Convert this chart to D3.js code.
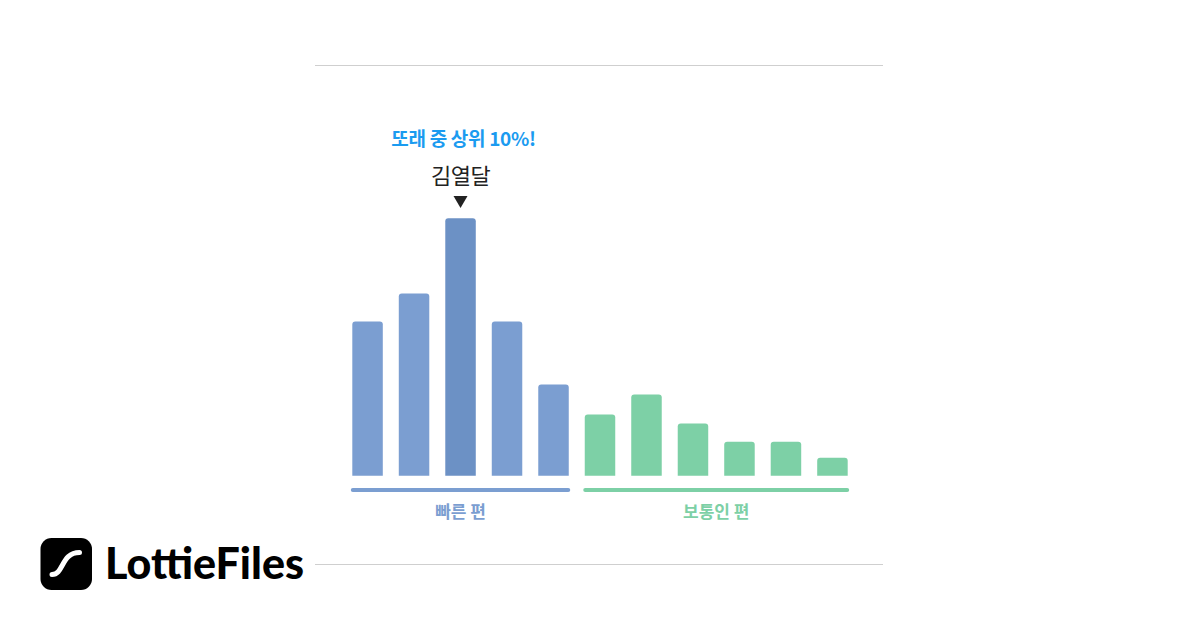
<!DOCTYPE html>
<html><head><meta charset="utf-8">
<script src="https://cdn.jsdelivr.net/npm/d3@7"></script>
<style>
html,body{margin:0;padding:0;background:#fff;}
svg{display:block;}
</style></head>
<body>
<svg id="c" width="1200" height="630"></svg>
<script>
// ---- data ----
const groupNames = ["빠른 편", "보통인 편"];
const fastValues = [15.4, 18.2, 25.7, 15.4, 9.1];
const normalValues = [6.1, 8.1, 5.2, 3.4, 3.4, 1.8];
const highlightIndex = 2;
const highlightTitle = "또래 중 상위 10%!";
const highlightName = "김열달";
const brandName = "LottieFiles";

// ---- build ----
const bars = [];
fastValues.forEach((v,i)=>bars.push({i:bars.length, v, g:0}));
normalValues.forEach((v,i)=>bars.push({i:bars.length, v, g:1}));

const colors = {0:"#7b9ed1", 1:"#7dd0a6"};
const hiColor = "#6c91c5";
const labelColors = {0:"#7b9ed1", 1:"#7dd0a6"};

const svg = d3.select("#c");

const x = d3.scaleBand().domain(bars.map(d=>d.i)).range([352.3, 847.7]).paddingInner(0.344).paddingOuter(0);
const y = d3.scaleLinear().domain([0, d3.max(bars, d=>d.v)]).range([475.7, 218.3]);
const bw = x.bandwidth();

// horizontal rules
svg.append("line").attr("x1",315).attr("x2",883).attr("y1",65.5).attr("y2",65.5)
  .attr("stroke","#cfcfcf").attr("stroke-width",1);
svg.append("line").attr("x1",315).attr("x2",883).attr("y1",564.5).attr("y2",564.5)
  .attr("stroke","#cfcfcf").attr("stroke-width",1);

function topRounded(x0, y0, w, h, r){
  r = Math.min(r, h/2, w/2);
  return `M${x0},${y0+h}V${y0+r}Q${x0},${y0} ${x0+r},${y0}H${x0+w-r}Q${x0+w},${y0} ${x0+w},${y0+r}V${y0+h}Z`;
}

svg.append("g").selectAll("path").data(bars).join("path")
  .attr("d", d=>topRounded(x(d.i), y(d.v), bw, y(0)-y(d.v), 3))
  .attr("fill", d=> d.i===highlightIndex ? hiColor : colors[d.g]);

// group underlines & labels
groupNames.forEach((name, g)=>{
  const gb = bars.filter(d=>d.g===g);
  const x0 = x(gb[0].i) - 1.5, x1 = x(gb[gb.length-1].i) + bw + 1.5;
  svg.append("line").attr("x1",x0+2).attr("x2",x1-2).attr("y1",490).attr("y2",490)
    .attr("stroke", colors[g]).attr("stroke-width",4).attr("stroke-linecap","round");
  svg.append("text").attr("x",(x0+x1)/2).attr("y",518).attr("text-anchor","middle")
    .attr("font-family","'Noto Sans CJK KR', 'Noto Sans', sans-serif").attr("font-weight",700)
    .attr("font-size",17).attr("fill", labelColors[g]).text(name);
});

// annotation
const hb = bars[highlightIndex];
const cx = x(hb.i) + bw/2;
svg.append("text").attr("x", cx+3).attr("y",146).attr("text-anchor","middle")
  .attr("font-family","'Noto Sans CJK KR', sans-serif").attr("font-weight",700)
  .attr("font-size",19).attr("letter-spacing","-0.3px").attr("fill","#1b9bf0").text(highlightTitle);
svg.append("text").attr("x", cx).attr("y",184).attr("text-anchor","middle")
  .attr("font-family","'Noto Sans CJK KR', sans-serif").attr("font-weight",400)
  .attr("font-size",22).attr("letter-spacing","-0.5px").attr("fill","#222").text(highlightName);
svg.append("path").attr("d",`M${cx-7},196L${cx+7},196L${cx},208Z`).attr("fill","#222");

// brand logo
const logo = svg.append("g");
logo.append("rect").attr("x",40.5).attr("y",538).attr("width",51.5).attr("height",52).attr("rx",11).attr("fill","#000");
logo.append("path").attr("d","M52,574.5 C64,574.5 61,552.5 79.5,552.5").attr("fill","none")
  .attr("stroke","#fff").attr("stroke-width",5).attr("stroke-linecap","round");
logo.append("text").attr("x",105).attr("y",579).attr("font-family","Lato, 'Open Sans', sans-serif")
  .attr("font-weight",900).attr("font-size",43).attr("textLength",199).attr("lengthAdjust","spacingAndGlyphs")
  .attr("fill","#000").text(brandName);
</script>
</body></html>
